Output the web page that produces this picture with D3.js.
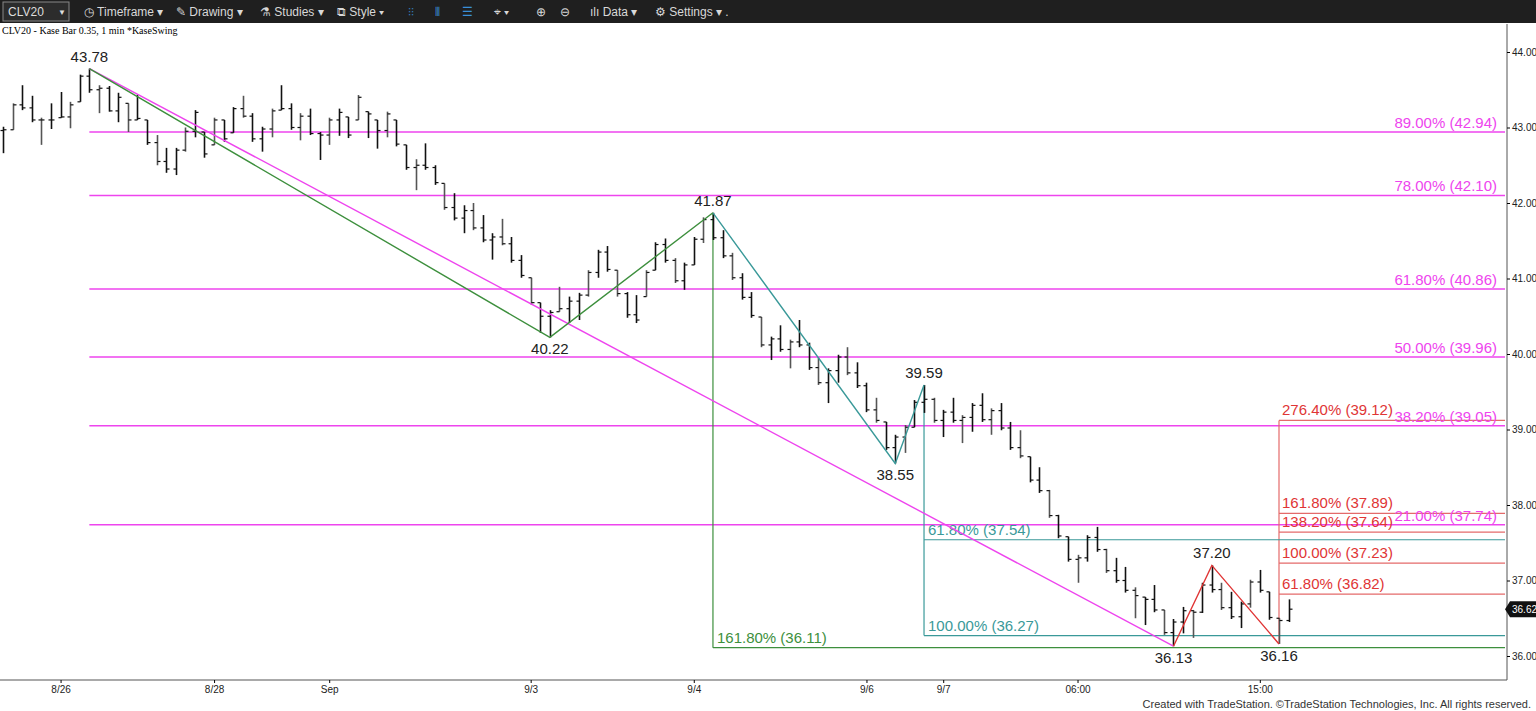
<!DOCTYPE html>
<html><head><meta charset="utf-8">
<script src="https://cdn.jsdelivr.net/npm/d3@7"></script>
<style>body{margin:0;background:#fff;overflow:hidden}svg{display:block}</style>
</head><body>
<script>
const highs=[43.01,43.32,43.56,43.42,43.13,43.32,43.47,43.34,43.70,43.78,43.56,43.55,43.46,43.32,43.43,43.10,42.90,42.73,42.73,43.00,43.23,42.94,43.13,43.10,43.27,43.42,43.19,43.01,43.25,43.56,43.32,43.19,43.25,42.94,43.13,43.25,43.14,43.43,43.21,43.10,43.21,43.10,42.77,42.58,42.79,42.50,42.26,42.13,41.97,42.00,41.84,41.60,41.79,41.55,41.31,41.01,40.68,40.58,40.89,40.76,40.81,41.11,41.38,41.43,41.11,40.82,40.78,41.11,41.48,41.53,41.27,41.21,41.55,41.81,41.87,41.64,41.34,41.07,40.82,40.49,40.23,40.38,40.19,40.45,40.15,39.95,39.81,39.99,40.09,39.89,39.62,39.42,39.10,38.93,39.06,39.39,39.59,39.42,39.26,39.42,39.19,39.35,39.48,39.28,39.35,39.10,38.99,38.64,38.50,38.20,37.87,37.58,37.34,37.60,37.71,37.42,37.30,37.18,36.91,36.78,36.94,36.61,36.49,36.65,36.61,36.97,37.20,36.97,36.85,36.72,37.01,37.14,36.85,36.50,36.75];
const lows=[42.66,42.97,43.23,43.07,42.77,42.98,43.13,42.99,43.34,43.46,43.19,43.21,43.07,42.94,43.10,42.77,42.50,42.40,42.37,42.68,42.87,42.60,42.77,42.81,42.93,43.13,42.81,42.68,42.87,43.23,42.97,42.83,42.90,42.57,42.77,42.89,42.86,43.10,42.86,42.72,42.87,42.75,42.44,42.17,42.44,42.24,41.91,41.77,41.60,41.64,41.48,41.25,41.44,41.21,41.01,40.65,40.28,40.22,40.56,40.41,40.45,40.76,41.01,41.09,40.76,40.48,40.41,40.76,41.11,41.21,40.94,40.85,41.18,41.47,41.51,41.27,40.98,40.72,40.48,40.09,39.92,40.03,39.81,40.09,39.79,39.59,39.35,39.62,39.72,39.55,39.23,39.09,38.73,38.55,38.69,39.03,39.22,39.09,38.90,39.09,38.82,38.97,39.10,38.93,38.99,38.73,38.62,38.30,38.16,37.83,37.56,37.25,36.97,37.25,37.38,37.10,36.97,36.84,36.50,36.41,36.58,36.28,36.13,36.30,36.24,36.57,36.84,36.61,36.49,36.37,36.64,36.84,36.48,36.16,36.45];
const closes=[42.97,43.30,43.26,43.10,43.10,43.10,43.14,43.30,43.68,43.50,43.52,43.22,43.40,43.10,43.12,42.80,42.55,42.45,42.70,42.95,43.20,42.65,43.10,42.85,43.25,43.15,42.85,42.98,43.22,43.25,43.00,43.15,42.92,42.90,43.10,43.20,42.90,43.40,43.18,42.96,43.18,42.78,42.47,42.50,42.47,42.27,41.94,41.80,41.90,41.67,41.51,41.55,41.46,41.24,41.04,40.68,40.50,40.55,40.60,40.70,40.78,41.08,41.35,41.12,40.80,40.52,40.45,41.08,41.45,41.24,40.97,41.18,41.52,41.78,41.54,41.30,41.01,40.75,40.51,40.12,40.20,40.06,40.16,40.12,39.82,39.62,39.78,39.96,39.75,39.58,39.26,39.12,38.76,38.90,39.03,39.36,39.40,39.12,39.23,39.12,39.16,39.32,39.13,39.25,39.02,38.76,38.65,38.33,38.19,37.86,37.59,37.28,37.30,37.57,37.41,37.13,37.00,36.87,36.80,36.75,36.61,36.31,36.45,36.60,36.58,36.94,36.88,36.64,36.52,36.69,36.98,36.87,36.51,36.47,36.62];
const priceTicks=[36,37,38,39,40,41,42,43,44];
const dateLabels=[["8/26",6],["8/28",22],["Sep",34],["9/3",55],["9/4",72],["9/6",90],["9/7",98],["06:00",112],["15:00",131]];
const swingGreen=[[9,43.78],[57,40.22],[74,41.87]];
const swingTeal=[[74,41.87],[93,38.55],[96,39.59]];
const swingMagenta=[[9,43.78],[122,36.13]];
const swingRed=[[122,36.13],[126,37.20],[133,36.16]];
const swingLabels=[[9,43.78,"43.78",-1],[57,40.22,"40.22",1],[74,41.87,"41.87",-1],[93,38.55,"38.55",1],[96,39.59,"39.59",-1],[122,36.13,"36.13",1],[126,37.20,"37.20",-1],[133,36.16,"36.16",1]];
const magentaLevels=[["89.00%",42.94],["78.00%",42.10],["61.80%",40.86],["50.00%",39.96],["38.20%",39.05],["21.00%",37.74]];
const redLevels=[["276.40%",39.12],["161.80%",37.89],["138.20%",37.64],["100.00%",37.23],["61.80%",36.82]];
const tealLevels=[["61.80%",37.54],["100.00%",36.27]];
const greenLevels=[["161.80%",36.11]];
const lastPrice=36.62;

const W=1536,H=711,right=1507;
const svg=d3.select("body").append("svg").attr("width",W).attr("height",H).style("font-family","Arial, Liberation Sans, sans-serif");
const x=d3.scaleLinear().domain([0,133]).range([3,1279]);
const y=d3.scaleLinear().domain([36,44]).range([656,52]);
const MAG="#ee44ee",GRN="#3d8f3d",TEAL="#3a9999",RED="#e03535",REDL="#e46a6a";
const NARROW="'Liberation Sans Narrow', 'Arial Narrow', sans-serif";

// toolbar
svg.append("rect").attr("width",W).attr("height",23).attr("fill","#1f1f1f");
svg.append("rect").attr("x",3).attr("y",2).attr("width",66).attr("height",19).attr("fill","#2c2c2c").attr("stroke","#888");
svg.append("text").attr("x",8).attr("y",16).attr("fill","#ddd").attr("font-size",12).text("CLV20");
svg.append("text").attr("x",58).attr("y",15).attr("fill","#ddd").attr("font-size",8).text("▼");
[["◷ Timeframe ▾",84],["✎ Drawing ▾",176],["⚗ Studies ▾",260],["⧉ Style ▾",337],["⫶⫶",408],["⫴",435],["☰",462],["⌖ ▾",494],["⊕",536],["⊖",560],["ılı Data ▾",590],["⚙ Settings ▾ .",655]].forEach(([t,px])=>{
  svg.append("text").attr("x",px).attr("y",16).attr("fill",px>400&&px<480?"#3a8fd8":"#d8d8d8").attr("font-size",12).text(t);
});
svg.append("text").attr("x",2).attr("y",34).attr("font-size",10).attr("font-family","Liberation Serif, serif").text("CLV20 - Kase Bar 0.35, 1 min  *KaseSwing");

// axes frame
svg.append("line").attr("x1",right).attr("x2",right).attr("y1",24).attr("y2",680).attr("stroke","#555");
svg.append("line").attr("x1",0).attr("x2",right).attr("y1",680).attr("y2",680).attr("stroke","#555");
const ya=svg.append("g").attr("transform",`translate(${right},0)`).call(d3.axisRight(y).tickValues(priceTicks).tickSize(3).tickPadding(2).tickFormat(d3.format(".2f")));
ya.select(".domain").remove();ya.selectAll("text").attr("font-size",10).attr("font-family",NARROW).attr("fill","#222");
const xa=svg.append("g").attr("transform","translate(0,680)").call(d3.axisBottom(x).tickValues(dateLabels.map(d=>d[1])).tickSize(3).tickFormat((d,i)=>dateLabels[i][0]));
xa.select(".domain").remove();xa.selectAll("text").attr("font-size",10).attr("fill","#222");

// magenta levels
magentaLevels.forEach(([p,v])=>{
  svg.append("line").attr("x1",x(9)).attr("x2",right-2).attr("y1",y(v)).attr("y2",y(v)).attr("stroke",MAG).attr("stroke-width",1.5);
});
const lev=(arr,i0,col,tcol,dx)=>arr.forEach(([p,v])=>{
  svg.append("line").attr("x1",x(i0)).attr("x2",right-2).attr("y1",y(v)).attr("y2",y(v)).attr("stroke",col).attr("stroke-width",1.2);
  svg.append("text").attr("x",x(i0)+dx).attr("y",y(v)-5).attr("fill",tcol).attr("font-size",15).text(`${p} (${v.toFixed(2)})`);
});
svg.append("line").attr("x1",x(74)).attr("x2",x(74)).attr("y1",y(41.87)).attr("y2",y(36.11)).attr("stroke",GRN).attr("stroke-width",1.2);
svg.append("line").attr("x1",x(96)).attr("x2",x(96)).attr("y1",y(39.59)).attr("y2",y(36.27)).attr("stroke",TEAL).attr("stroke-width",1.2);
svg.append("line").attr("x1",x(133)).attr("x2",x(133)).attr("y1",y(36.16)).attr("y2",y(39.12)).attr("stroke",REDL).attr("stroke-width",1.2);
lev(greenLevels,74,GRN,GRN,4);
lev(tealLevels,96,TEAL,TEAL,4);
lev(redLevels,133,REDL,RED,3);
magentaLevels.forEach(([p,v])=>{
  svg.append("text").attr("x",right-10).attr("y",y(v)-4).attr("text-anchor","end").attr("fill",MAG).attr("font-size",15).text(`${p} (${v.toFixed(2)})`);
});

// bars
const g=svg.append("g").attr("stroke","#111").attr("stroke-width",1.6);
highs.forEach((h,i)=>{
  const xi=Math.round(x(i))+0.5;
  g.append("line").attr("x1",xi).attr("x2",xi).attr("y1",y(h)).attr("y2",y(lows[i])).attr("stroke",i%3===1?"#555":"#111");
  const o=i>0?closes[i-1]:lows[i]+0.3;
  const oo=Math.min(h,Math.max(lows[i],o));
  g.append("line").attr("x1",xi-3).attr("x2",xi).attr("y1",y(oo)).attr("y2",y(oo)).attr("stroke-width",1.2);
  g.append("line").attr("x1",xi).attr("x2",xi+3).attr("y1",y(closes[i])).attr("y2",y(closes[i])).attr("stroke-width",1.2);
});

// swings
const ln=d3.line().x(d=>x(d[0])).y(d=>y(d[1]));
[[swingMagenta,MAG],[swingGreen,GRN],[swingTeal,TEAL],[swingRed,RED]].forEach(([d,c])=>{
  svg.append("path").attr("d",ln(d)).attr("fill","none").attr("stroke",c).attr("stroke-width",1.4);
});
swingLabels.forEach(([i,v,t,s])=>{
  svg.append("text").attr("x",x(i)).attr("y",s<0?y(v)-7:y(v)+17).attr("text-anchor","middle").attr("font-size",15).attr("fill","#222").text(t);
});

// last price marker
const ly=y(lastPrice);
svg.append("path").attr("d",`M${right-2},${ly} L${right+3},${ly-8} L${W},${ly-8} L${W},${ly+8} L${right+3},${ly+8} Z`).attr("fill","#111");
svg.append("text").attr("x",right+5).attr("y",ly+4).attr("fill","#fff").attr("font-size",10).attr("font-family",NARROW).text(lastPrice.toFixed(2));

svg.append("text").attr("x",1531).attr("y",708).attr("text-anchor","end").attr("font-size",11).attr("fill","#333").text("Created with TradeStation. ©TradeStation Technologies, Inc. All rights reserved.");
</script>
</body></html>
